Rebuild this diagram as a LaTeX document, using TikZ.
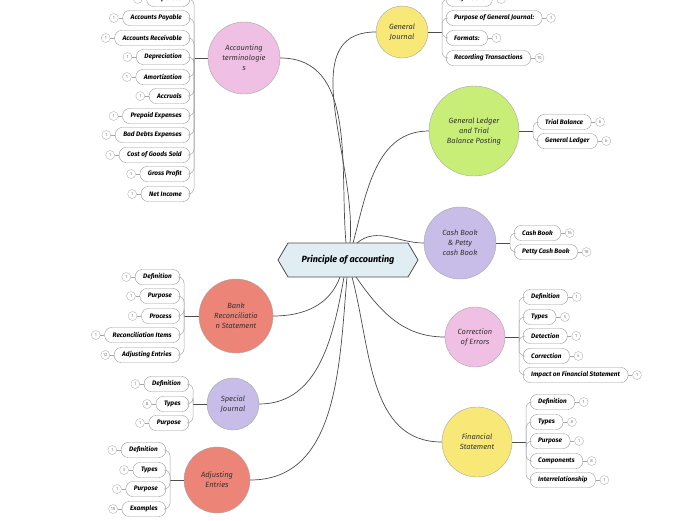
\documentclass[tikz,border=0pt]{standalone}
\usepackage{fontspec}
\setmainfont{Fira Sans}
\usetikzlibrary{positioning}
\definecolor{cpink}{HTML}{F0C0E4}
\definecolor{cyel}{HTML}{F8E878}
\definecolor{cgreen}{HTML}{C8EE78}
\definecolor{clav}{HTML}{C8BCE8}
\definecolor{csal}{HTML}{EC8478}
\definecolor{ccen}{HTML}{E0EEF4}
\tikzset{
  topic/.style={circle,draw=gray!70,fill=#1,align=center,inner sep=1pt,font=\fontsize{7.5}{10}\selectfont\itshape,text=black!80},
  leaf/.style={draw=gray!80,rounded corners=7pt,minimum height=15pt,inner xsep=8pt,inner ysep=2pt,font=\fontsize{6.5}{7}\selectfont\itshape\bfseries,fill=white},
  cnt/.style={circle,draw=gray!60,inner sep=0pt,minimum size=9pt,font=\fontsize{4.5}{5}\selectfont,text=gray},
  cl/.style={draw=gray!70,line width=0.5pt},
  br/.style={draw=gray!70,line width=0.5pt,rounded corners=6pt},
  main/.style={draw=black!70,line width=0.7pt},
}
\newcommand\rleaf[6]{%
  \node[leaf,anchor=west] (#1) at (#3,#4) {#2};
  \node[cnt,right=4pt of #1] (#1c) {#5};
  \draw[cl] (#1) -- (#1c);
  \draw[br] (#6) |- (#1.west);}
\newcommand\lleaf[6]{%
  \node[leaf,anchor=east] (#1) at (#3,#4) {#2};
  \node[cnt,left=4pt of #1] (#1c) {#5};
  \draw[cl] (#1) -- (#1c);
  \draw[br] (#6) |- (#1.east);}
\begin{document}
\begin{tikzpicture}[x=1pt,y=-1pt]
\useasboundingbox (0,0) rectangle (696,520);
% topics
\node[topic=cpink,minimum size=72pt] (acc) at (244,58) {Accounting\\terminologie\\s};
\node[topic=cyel,minimum size=52pt] (gj) at (402,32) {General\\Journal};
\node[topic=cgreen,minimum size=90pt] (gl) at (474,131) {General Ledger\\and Trial\\Balance Posting};
\node[topic=clav,minimum size=72pt] (cb) at (460,243) {Cash Book\\\& Petty\\cash Book};
\node[topic=cpink,minimum size=60pt] (ce) at (475,337) {Correction\\of Errors};
\node[topic=cyel,minimum size=70pt] (fs) at (477,442) {Financial\\Statement};
\node[topic=csal,minimum size=74pt] (br) at (236,316) {Bank\\Reconciliatio\\n Statement};
\node[topic=clav,minimum size=52pt] (sj) at (233,404) {Special\\Journal};
\node[topic=csal,minimum size=66pt] (ae) at (217,480) {Adjusting\\Entries};
% center
\draw[fill=ccen,draw=black!70,line width=0.8pt] (278,260)--(288,243)--(408,243)--(418,260)--(408,277)--(288,277)--cycle;
\node[font=\fontsize{9}{10}\selectfont\bfseries\itshape] (c) at (348,260) {Principle of accounting};
% main connectors
\draw[main] (346,243) to[out=95,in=0] (acc.east);
\draw[main] (350,243) to[out=85,in=180] (gj.west);
\draw[main] (353,243) to[out=75,in=180] (gl.west);
\draw[main] (357,243) to[out=40,in=180] (cb.west);
\draw[main] (356,277) to[out=-55,in=180] (ce.west);
\draw[main] (352,277) to[out=-75,in=180] (fs.west);
\draw[main] (340,277) to[out=-110,in=0] (br.east);
\draw[main] (344,277) to[out=-100,in=0] (sj.east);
\draw[main] (347,277) to[out=-95,in=0] (ae.east);
% junctions
\coordinate (jacc) at (194,58); \draw[main] (acc.west) -- (jacc);
\coordinate (jgj) at (442,32); \draw[main] (gj.east) -- (jgj);
\coordinate (jgl) at (533,131); \draw[main] (gl.east) -- (jgl);
\coordinate (jcb) at (510,243); \draw[main] (cb.east) -- (jcb);
\coordinate (jce) at (519,337); \draw[main] (ce.east) -- (jce);
\coordinate (jfs) at (526,442); \draw[main] (fs.east) -- (jfs);
\coordinate (jbr) at (184,316); \draw[main] (br.west) -- (jbr);
\coordinate (jsj) at (193,404); \draw[main] (sj.west) -- (jsj);
\coordinate (jae) at (170,480); \draw[main] (ae.west) -- (jae);
% accounting leaves
\lleaf{a0}{Expenses}{190}{-1}{1}{jacc}
\lleaf{a1}{Accounts Payable}{190}{18}{1}{jacc}
\lleaf{a2}{Accounts Receivable}{190}{38}{1}{jacc}
\lleaf{a3}{Depreciation}{190}{57}{1}{jacc}
\lleaf{a4}{Amortization}{190}{77}{1}{jacc}
\lleaf{a5}{Accruals}{190}{96}{1}{jacc}
\lleaf{a6}{Prepaid Expenses}{190}{116}{1}{jacc}
\lleaf{a7}{Bad Debts Expenses}{190}{135}{1}{jacc}
\lleaf{a8}{Cost of Goods Sold}{190}{155}{1}{jacc}
\lleaf{a9}{Gross Profit}{190}{174}{1}{jacc}
\lleaf{a10}{Net Income}{190}{194}{1}{jacc}
% general journal
\rleaf{g0}{Definition:}{446}{-1}{1}{jgj}
\rleaf{g1}{Purpose of General Journal:}{446}{18}{1}{jgj}
\rleaf{g2}{Formats:}{446}{38}{1}{jgj}
\rleaf{g3}{Recording Transactions}{446}{58}{10}{jgj}
% GL
\rleaf{l0}{Trial Balance}{537}{122}{6}{jgl}
\rleaf{l1}{General Ledger}{537}{141}{6}{jgl}
% cash
\rleaf{k0}{Cash Book}{514}{233}{16}{jcb}
\rleaf{k1}{Petty Cash Book}{514}{252}{18}{jcb}
% correction
\rleaf{e0}{Definition}{523}{297}{1}{jce}
\rleaf{e1}{Types}{523}{317}{5}{jce}
\rleaf{e2}{Detection}{523}{336}{1}{jce}
\rleaf{e3}{Correction}{523}{356}{4}{jce}
\rleaf{e4}{Impact on Financial Statement}{523}{375}{1}{jce}
% financial
\rleaf{f0}{Definition}{530}{402}{1}{jfs}
\rleaf{f1}{Types}{530}{422}{8}{jfs}
\rleaf{f2}{Purpose}{530}{441}{1}{jfs}
\rleaf{f3}{Components}{530}{461}{8}{jfs}
\rleaf{f4}{Interrelationship}{530}{480}{1}{jfs}
% bank
\lleaf{b0}{Definition}{180}{277}{1}{jbr}
\lleaf{b1}{Purpose}{180}{296}{1}{jbr}
\lleaf{b2}{Process}{180}{316}{1}{jbr}
\lleaf{b3}{Reconciliation Items}{180}{335}{1}{jbr}
\lleaf{b4}{Adjusting Entries}{180}{355}{12}{jbr}
% special
\lleaf{s0}{Definition}{189}{384}{1}{jsj}
\lleaf{s1}{Types}{189}{404}{8}{jsj}
\lleaf{s2}{Purpose}{189}{423}{1}{jsj}
% adjusting
\lleaf{d0}{Definition}{166}{450}{1}{jae}
\lleaf{d1}{Types}{166}{470}{3}{jae}
\lleaf{d2}{Purpose}{166}{489}{1}{jae}
\lleaf{d3}{Examples}{166}{509}{10}{jae}
\end{tikzpicture}
\end{document}
